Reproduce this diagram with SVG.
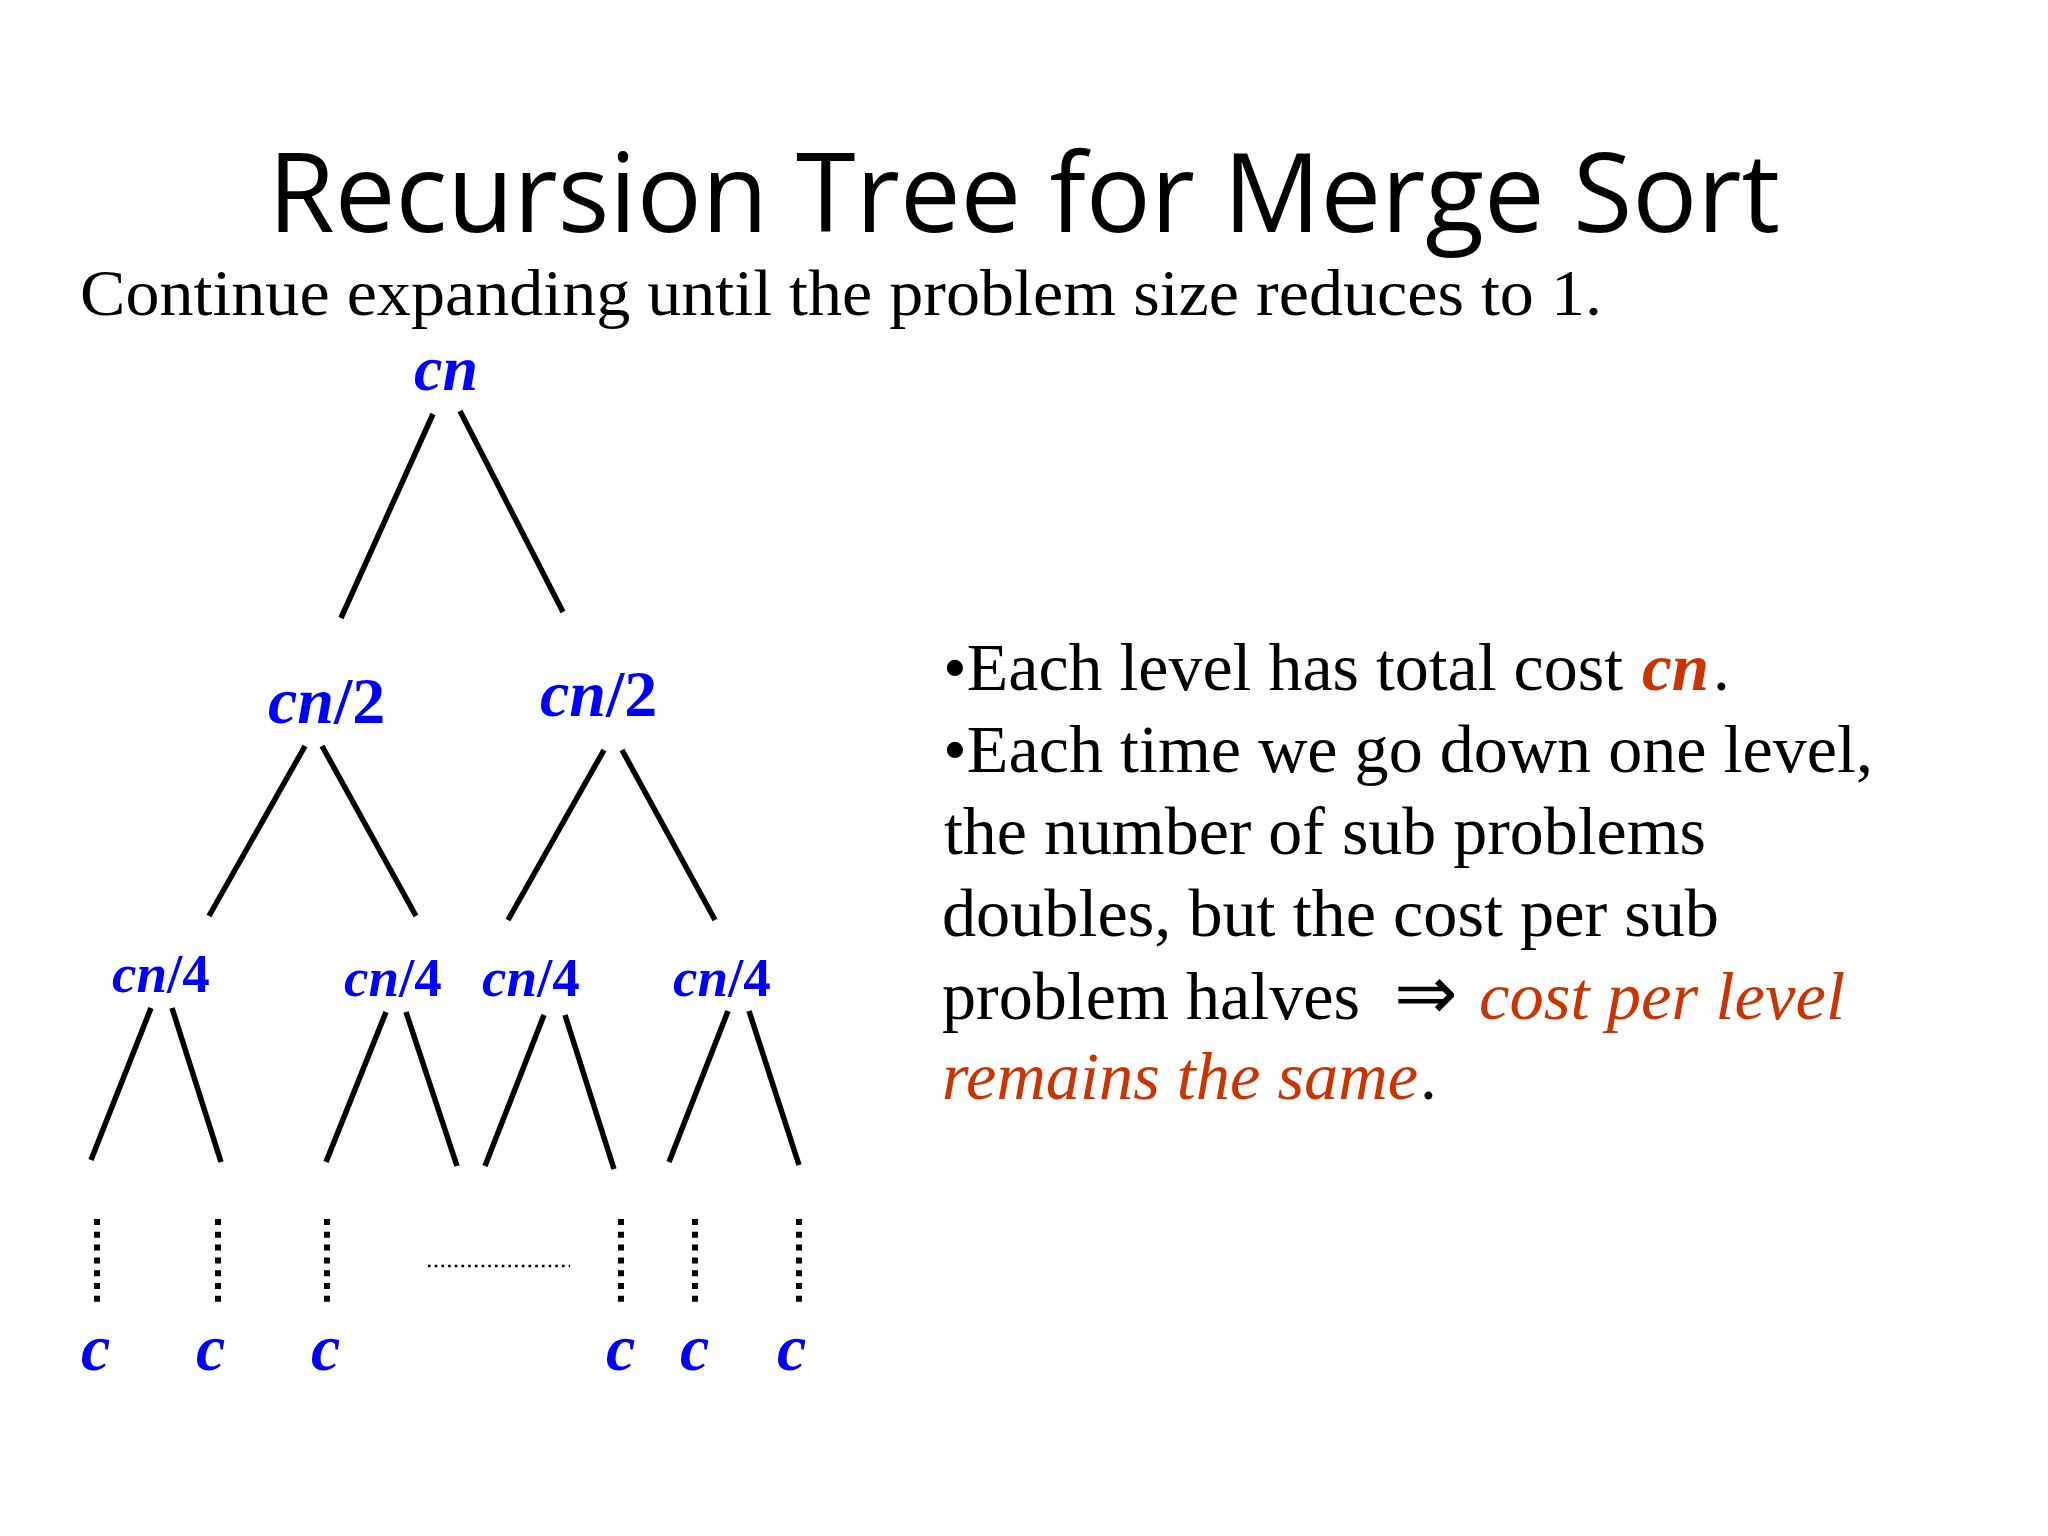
<svg xmlns="http://www.w3.org/2000/svg" width="2048" height="1536" viewBox="0 0 2048 1536">
<style>
.title{font-family:"Open Sans","Noto Sans",sans-serif;font-size:110px;fill:#000}
.serif{font-family:"Liberation Serif","Times New Roman",serif;fill:#000}
.node{font-family:"Liberation Serif","Times New Roman",serif;font-weight:bold;fill:#0000FF}
.it{font-style:italic}
.edge{stroke:#000;stroke-width:5.5;fill:none}
.dots{stroke:#000;stroke-width:6;stroke-dasharray:6 6.8;fill:none}
.hdots{stroke:#000;stroke-width:2.6;stroke-dasharray:2.6 4.1;fill:none}
.red{fill:#CC3300}
</style>
<rect width="2048" height="1536" fill="#fff"/>
<text class="title" x="268" y="232" textLength="1512" lengthAdjust="spacingAndGlyphs">Recursion Tree for Merge Sort</text>
<text class="serif" x="80" y="315" font-size="66" textLength="1522" lengthAdjust="spacingAndGlyphs">Continue expanding until the problem size reduces to 1.</text>

<g id="connectors">
<line class="edge" x1="433" y1="414" x2="341" y2="618"/>
<line class="edge" x1="460" y1="411" x2="563" y2="612"/>
<line class="edge" x1="305" y1="746" x2="209" y2="916"/>
<line class="edge" x1="322" y1="746" x2="416" y2="916"/>
<line class="edge" x1="604" y1="750" x2="508" y2="920"/>
<line class="edge" x1="622" y1="750" x2="715" y2="920"/>
<line class="edge" x1="151" y1="1008" x2="91" y2="1160"/>
<line class="edge" x1="172" y1="1008" x2="221" y2="1162"/>
<line class="edge" x1="386" y1="1012" x2="326" y2="1162"/>
<line class="edge" x1="406" y1="1012" x2="457" y2="1166"/>
<line class="edge" x1="544" y1="1015" x2="485" y2="1166"/>
<line class="edge" x1="565" y1="1015" x2="614" y2="1169"/>
<line class="edge" x1="728" y1="1011" x2="669" y2="1162"/>
<line class="edge" x1="749" y1="1011" x2="799" y2="1165"/>
<line class="dots" x1="97" y1="1219" x2="97" y2="1302"/>
<line class="dots" x1="218" y1="1219" x2="218" y2="1302"/>
<line class="dots" x1="327" y1="1219" x2="327" y2="1302"/>
<line class="dots" x1="621" y1="1219" x2="621" y2="1302"/>
<line class="dots" x1="695" y1="1219" x2="695" y2="1302"/>
<line class="dots" x1="799" y1="1219" x2="799" y2="1302"/>
<line class="hdots" x1="428" y1="1266" x2="570" y2="1266"/>
</g>

<g id="n-root"><text class="node it" x="414" y="390" font-size="64">cn</text></g>
<g id="n-l1a"><text class="node" x="268" y="723" font-size="66"><tspan class="it">cn</tspan>/2</text></g>
<g id="n-l1b"><text class="node" x="540" y="716" font-size="66"><tspan class="it">cn</tspan>/2</text></g>
<g id="n-l2a"><text class="node" x="112" y="992" font-size="55"><tspan class="it">cn</tspan>/4</text></g>
<g id="n-l2b"><text class="node" x="344" y="996" font-size="55"><tspan class="it">cn</tspan>/4</text></g>
<g id="n-l2c"><text class="node" x="482" y="996" font-size="55"><tspan class="it">cn</tspan>/4</text></g>
<g id="n-l2d"><text class="node" x="673" y="996" font-size="55"><tspan class="it">cn</tspan>/4</text></g>
<g id="n-leaf1"><text class="node it" x="81" y="1370" font-size="66">c</text></g>
<g id="n-leaf2"><text class="node it" x="196" y="1370" font-size="66">c</text></g>
<g id="n-leaf3"><text class="node it" x="311" y="1370" font-size="66">c</text></g>
<g id="n-leaf4"><text class="node it" x="606" y="1370" font-size="66">c</text></g>
<g id="n-leaf5"><text class="node it" x="680" y="1370" font-size="66">c</text></g>
<g id="n-leaf6"><text class="node it" x="777" y="1370" font-size="66">c</text></g>

<g id="notes" font-size="67">
<text class="serif" x="943" y="690" textLength="680" lengthAdjust="spacingAndGlyphs">•Each level has total cost</text>
<text class="serif red it" x="1642" y="690" font-weight="bold">cn</text>
<text class="serif" x="1713" y="690">.</text>
<text class="serif" x="943" y="772" textLength="930" lengthAdjust="spacingAndGlyphs">•Each time we go down one level,</text>
<text class="serif" x="944" y="854" textLength="762" lengthAdjust="spacingAndGlyphs">the number of sub problems</text>
<text class="serif" x="942" y="936" textLength="777" lengthAdjust="spacingAndGlyphs">doubles, but the cost per sub</text>
<text class="serif" x="942" y="1019" textLength="418" lengthAdjust="spacingAndGlyphs">problem halves</text>
<text class="serif" x="1394" y="1019" font-size="76" font-family="'DejaVu Serif',serif">⇒</text>
<text class="serif red it" x="1479" y="1019" textLength="366" lengthAdjust="spacingAndGlyphs">cost per level</text>
<text class="serif red it" x="942" y="1099" textLength="476" lengthAdjust="spacingAndGlyphs">remains the same</text>
<text class="serif" x="1420" y="1099">.</text>
</g>
</svg>
